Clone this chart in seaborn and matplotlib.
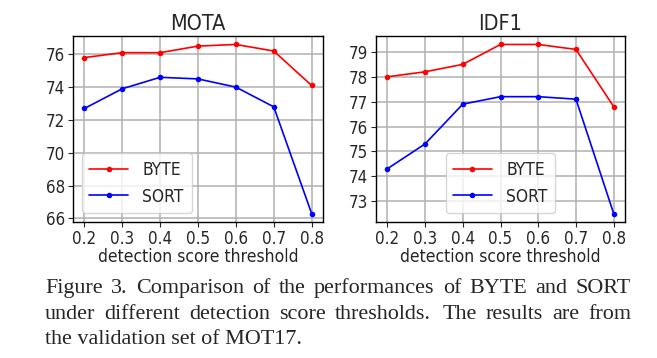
import matplotlib
matplotlib.use("Agg")
import matplotlib.pyplot as plt
import seaborn as sns
import pandas as pd

thresholds = [0.2, 0.3, 0.4, 0.5, 0.6, 0.7, 0.8]
mota_byte = [75.8, 76.1, 76.1, 76.5, 76.6, 76.2, 74.1]
mota_sort = [72.7, 73.9, 74.6, 74.5, 74.0, 72.8, 66.3]
idf1_byte = [78.0, 78.2, 78.5, 79.3, 79.3, 79.1, 76.8]
idf1_sort = [74.3, 75.3, 76.9, 77.2, 77.2, 77.1, 72.5]
methods = ["BYTE", "SORT"]
colors = {"BYTE": "red", "SORT": "blue"}
caption_lines = [
    "Figure 3. Comparison of the performances of BYTE and SORT",
    "under different detection score thresholds.  The results are from",
    "the validation set of MOT17.",
]

sns.set_style("ticks")
plt.rcParams["font.family"] = ["DejaVu Sans"]
plt.rcParams["font.stretch"] = "condensed"

def make_df(byte, sort):
    return pd.DataFrame({
        "thr": thresholds * 2,
        "val": byte + sort,
        "method": ["BYTE"] * len(byte) + ["SORT"] * len(sort),
    })

W, H = 657, 358
fig = plt.figure(figsize=(W / 100, H / 100), dpi=100)
ax1 = fig.add_axes([73 / W, 1 - 222 / H, 250 / W, 186 / H])
ax2 = fig.add_axes([376 / W, 1 - 222 / H, 249 / W, 186 / H])

panels = [
    (ax1, make_df(mota_byte, mota_sort), "MOTA", "lower left"),
    (ax2, make_df(idf1_byte, idf1_sort), "IDF1", "lower center"),
]
for ax, df, title, loc in panels:
    sns.lineplot(data=df, x="thr", y="val", hue="method", palette=colors,
                 marker="o", markersize=4, markeredgewidth=0, linewidth=1.2,
                 ax=ax)
    ax.set_xticks(thresholds)
    ax.set_xticklabels([f"{t:.1f}" for t in thresholds])
    ax.grid(True, color="#b0b0b0", linewidth=1.1)
    ax.set_axisbelow(True)
    ax.set_title(title, fontsize=15.5, pad=4)
    ax.set_xlabel("detection score threshold", fontsize=12.6, labelpad=0)
    ax.set_ylabel("")
    ax.tick_params(labelsize=12.2, length=3.5, width=0.8, pad=2)
    for s in ax.spines.values():
        s.set_color("black")
        s.set_linewidth(1.0)
    ax.legend(loc=loc, fontsize=12.5, title=None, handlelength=2.2,
              borderpad=0.45, labelspacing=0.5, handletextpad=0.85)

ax1.set_yticks([66, 68, 70, 72, 74, 76])
ax2.set_yticks([73, 74, 75, 76, 77, 78, 79])

# caption, justified lines
fig.canvas.draw()
renderer = fig.canvas.get_renderer()
left, right = 45, 631
baselines = [292.7, 319.3, 344.5]
cap_fs = 15.9
for i, (line, y) in enumerate(zip(caption_lines, baselines)):
    yf = 1 - y / H
    if i == len(caption_lines) - 1:
        fig.text(left / W, yf, line, family="Liberation Serif",
                 fontsize=cap_fs, ha="left", va="baseline")
        continue
    words = line.split()
    texts = [fig.text(0, yf, w, family="Liberation Serif", fontsize=cap_fs,
                      ha="left", va="baseline") for w in words]
    widths = [t.get_window_extent(renderer).width for t in texts]
    weights = [1.3 if (w.endswith(".") and not w[:-1].isdigit()) else 1.0
               for w in words[:-1]]
    unit = (right - left - sum(widths)) / sum(weights)
    x = left
    for k, (t, w) in enumerate(zip(texts, widths)):
        t.set_x(x / W)
        if k < len(weights):
            x += w + unit * weights[k]

fig.savefig("out.png", dpi=100, facecolor="white")
